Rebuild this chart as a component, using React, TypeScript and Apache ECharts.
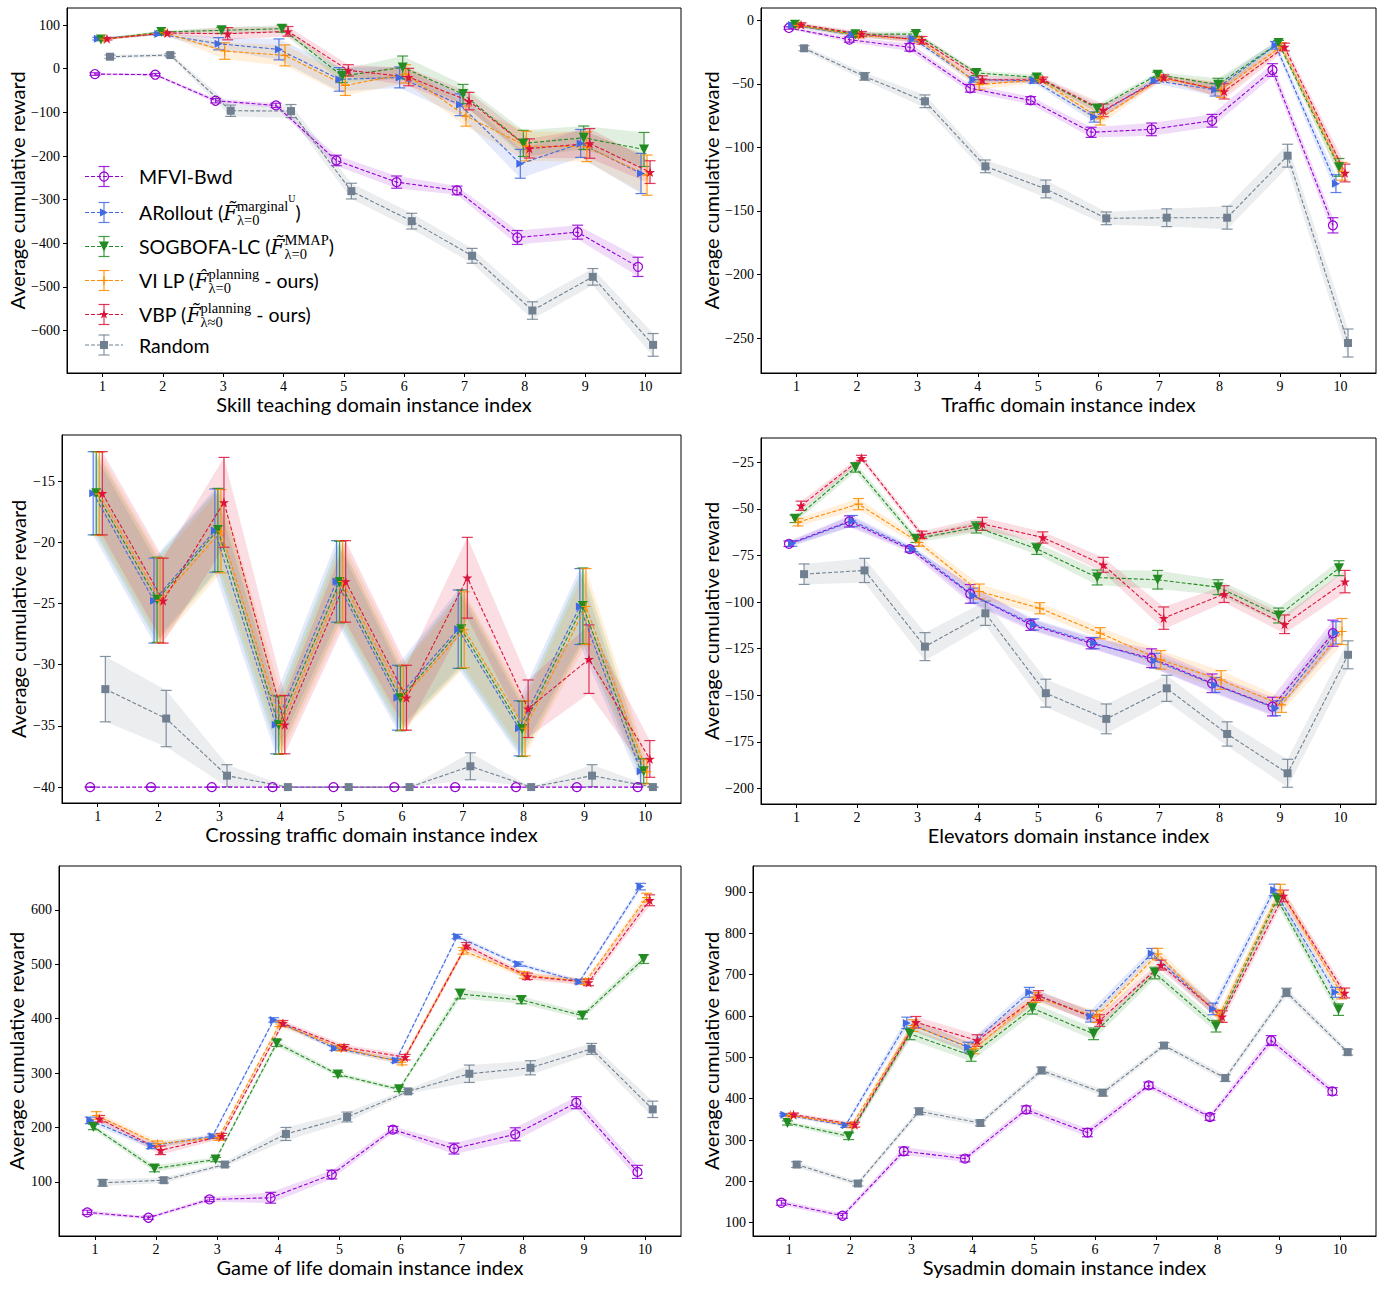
import React, { useEffect, useRef } from 'react';
import * as echarts from 'echarts';

// ---------------- data ----------------
const instances = [1, 2, 3, 4, 5, 6, 7, 8, 9, 10];
const methodNames = ['MFVI-Bwd', 'ARollout', 'SOGBOFA-LC', 'VI LP', 'VBP', 'Random'];
const methodColors = ['#9400D3', '#4169E1', '#228B22', '#FF8C00', '#DC143C', '#708090'];
const xOffsets = [-0.125, -0.075, -0.025, 0.025, 0.075, 0.125];

// order of rows: MFVI-Bwd, ARollout, SOGBOFA-LC, VI LP, VBP, Random
const skillMeans = [
  [-12.3, -13.8, -73.4, -84.1, -210.2, -259.8, -278.9, -386.6, -374.4, -453.9],
  [68.7, 79.4, 57.2, 44.2, -24.5, -20, -82.6, -217.8, -171.2, -240],
  [67.1, 84.0, 87.8, 91.6, -16.9, 3.0, -58.1, -171.2, -158.2, -185],
  [68, 82.4, 40.4, 30.5, -38.3, -12, -108.6, -177.3, -178.8, -243.8],
  [68.7, 81.7, 80.1, 85.5, -3.9, -19.2, -74.2, -182.7, -171.2, -236.9],
  [27.4, 31.2, -96.3, -97.1, -280.4, -349.2, -428.6, -553.9, -476.8, -632.6],
];
const skillErrs = [
  [3, 3, 5, 5, 12, 14, 10, 16, 16, 22],
  [3, 3, 14, 24, 27, 24, 25, 33, 32, 46],
  [3, 3, 7, 8, 15, 26, 22, 30, 27, 39],
  [3, 3, 19, 24, 23, 21, 23, 34, 34, 46],
  [3, 3, 14, 11, 13, 20, 20, 22, 34, 26],
  [4, 4, 13, 15, 18, 18, 17, 20, 19, 26],
];
const skillTicks = [-600, -500, -400, -300, -200, -100, 0, 100];

const trafficMeans = [
  [-6.0, -15.2, -21.2, -53.5, -63, -88.1, -85.8, -79, -39.1, -161.3],
  [-3.7, -11.3, -14.4, -46.7, -47.5, -76.1, -47.5, -54.6, -19.7, -128.5],
  [-3.4, -11, -10.8, -41.4, -44.9, -69.3, -42.8, -50.6, -17.8, -115.7],
  [-4, -11.8, -15.2, -50.6, -46.7, -77.4, -45.4, -54.6, -20.5, -118.8],
  [-3.4, -10.8, -15.7, -46.7, -46.7, -70.8, -44.9, -55.9, -21, -120.1],
  [-22, -44.1, -63.7, -114.9, -132.7, -155.8, -155.3, -155.3, -106.5, -253.9],
];
const trafficErrs = [
  [1, 2, 3, 3, 3, 4, 5, 5, 5, 6],
  [1.5, 2, 2, 2, 2, 4, 2, 5, 3, 7],
  [1.5, 2, 2, 2, 2, 3, 2, 5, 2, 7],
  [1.5, 2, 2, 4, 2, 5, 2, 6, 3, 7],
  [1.5, 2, 3, 3, 2, 5, 2, 6, 3, 7],
  [2, 3, 5, 5, 7, 5, 7, 9, 9, 11],
];
const trafficTicks = [-250, -200, -150, -100, -50, 0];

const crossingMeans = [
  [-40, -40, -40, -40, -40, -40, -40, -40, -40, -40],
  [-16.0, -24.77, -19.05, -34.9, -23.2, -32.7, -27.1, -35.2, -25.25, -38.7],
  [-16.0, -24.7, -19.0, -34.95, -23.25, -32.75, -27.1, -35.25, -25.2, -38.7],
  [-16.05, -24.75, -19.1, -34.9, -23.2, -32.7, -27.15, -35.2, -25.25, -38.75],
  [-16.0, -24.77, -16.74, -34.9, -23.2, -32.7, -22.9, -33.6, -29.55, -37.7],
  [-32.0, -34.4, -39.07, -40, -40, -40, -38.3, -40, -39.07, -40],
];
const crossingErrs = [
  [0, 0, 0, 0, 0, 0, 0, 0, 0, 0],
  [3.4, 3.47, 3.4, 2.38, 3.33, 2.65, 3.2, 2.25, 3.1, 1.0],
  [3.4, 3.47, 3.4, 2.38, 3.33, 2.65, 3.2, 2.25, 3.1, 1.0],
  [3.4, 3.47, 3.4, 2.38, 3.33, 2.65, 3.1, 2.25, 3.1, 1.0],
  [3.4, 3.47, 3.67, 2.38, 3.33, 2.65, 3.3, 2.35, 2.8, 1.5],
  [2.67, 2.3, 0.9, 0, 0, 0, 1.1, 0, 0.9, 0],
];
const crossingTicks = [-40, -35, -30, -25, -20, -15];

const elevatorMeans = [
  [-68.7, -56.7, -71.6, -95.6, -112.2, -122.1, -130.1, -143.6, -156.1, -116.7],
  [-68.5, -56.5, -71.5, -96.5, -112, -122, -131.5, -144.5, -157, -116.5],
  [-55.3, -27.7, -66, -59.9, -71.4, -86.8, -88, -92, -107.2, -81.8],
  [-57.1, -47.4, -68, -94.3, -103.3, -116.7, -131, -141.8, -155.2, -115.8],
  [-48.3, -22.7, -63.9, -58, -65.3, -80, -108.6, -95.7, -111.9, -89],
  [-85, -83, -123.9, -106, -148.9, -162.7, -146.3, -170.8, -191.9, -128.3],
];
const elevatorErrs = [
  [1.5, 3, 1.5, 5, 3, 3, 5, 5, 5, 7],
  [1.5, 3, 1.5, 4, 3, 3, 4, 4, 4, 6],
  [2, 2.5, 2, 3, 3, 4, 5, 4, 4, 4],
  [2, 3, 2, 4, 3, 3, 5, 5, 4, 7],
  [2.5, 1.5, 2, 3.5, 3, 4, 6, 4.5, 5, 6],
  [5.5, 6.5, 7.5, 6.5, 7.5, 8, 7, 6.5, 7.5, 7.5],
];
const elevatorTicks = [-200, -175, -150, -125, -100, -75, -50, -25];

const lifeMeans = [
  [43.8, 34, 67.6, 70.7, 113.4, 196, 161.1, 187.4, 245.5, 118.3],
  [213, 166, 184, 397.7, 345.7, 323.1, 551, 500.4, 468, 642.8],
  [200.9, 124.4, 141, 354.9, 297.4, 270, 445.4, 434.4, 405.6, 509.5],
  [222, 170, 181.3, 390.3, 345.7, 320, 524.8, 480.2, 468, 622.6],
  [216, 158, 184, 391.6, 347.5, 329.2, 534, 477.8, 466.7, 617.7],
  [98.2, 103, 131.8, 188, 219.2, 266.3, 298.7, 309.7, 344.5, 233.3],
];
const lifeErrs = [
  [4, 3, 4, 10, 8, 6, 10, 12, 11, 12],
  [6, 5, 4, 4, 4, 4, 4, 4, 4, 6],
  [5, 6, 4, 6, 4, 4, 9, 7, 6, 8],
  [7, 5, 5, 5, 5, 5, 6, 6, 5, 8],
  [6, 8, 5, 5, 5, 5, 6, 6, 6, 10],
  [6, 5, 4, 12, 9, 4, 16, 13, 10, 15],
];
const lifeTicks = [100, 200, 300, 400, 500, 600];

const sysadminMeans = [
  [148.3, 116.9, 272.9, 255.2, 373.4, 317.9, 432.1, 355.7, 540.6, 417.6],
  [361.3, 335.6, 583.2, 524.5, 657.2, 599.3, 751.3, 617, 904.8, 657.2],
  [341.2, 309.1, 556.7, 504.4, 618.6, 556.7, 703.8, 575.2, 882.3, 615.4],
  [359.7, 335.6, 576.8, 520.5, 645, 598.5, 749.7, 600.9, 902.4, 653.2],
  [361.3, 337.2, 584.8, 540.6, 649.2, 588.9, 723.1, 598.5, 890.4, 655.6],
  [240.7, 194.9, 369.4, 341.2, 468.3, 414.4, 528.6, 449.8, 657.2, 512.5],
];
const sysadminErrs = [
  [6, 6, 10, 8, 9, 10, 8, 8, 12, 9],
  [3, 5, 14, 12, 12, 14, 12, 14, 14, 12],
  [5, 8, 14, 14, 14, 14, 14, 14, 14, 14],
  [4, 6, 14, 12, 12, 14, 14, 14, 16, 12],
  [4, 6, 14, 14, 12, 14, 12, 14, 14, 12],
  [7, 6, 8, 7, 8, 8, 7, 8, 10, 7],
];
const sysadminTicks = [100, 200, 300, 400, 500, 600, 700, 800, 900];

const xTicks = instances;
const yTitle = 'Average cumulative reward';

// ---------------- styling ----------------
const SANS = 'Lato, "Open Sans", sans-serif';
const SERIF = '"Liberation Serif", "DejaVu Serif", serif';
const MATH = '"DejaVu Serif", serif';

const STAR =
  'path://M50,0 L61.2,34.5 L97.6,34.5 L68.2,55.9 L79.4,90.5 L50,69.1 L20.6,90.5 L31.8,55.9 L2.4,34.5 L38.8,34.5 Z';
const PLUS = 'path://M4.4,0H5.6V4.4H10V5.6H5.6V10H4.4V5.6H0V4.4H4.4Z';
const symbols = ['circle', 'path://M0,0L10,5L0,10Z', 'path://M0,0L10,0L5,10Z', PLUS, STAR, 'rect'];
const symbolSizes = [9, 8, 10, 9, 10, 8];

const panels = [
  { name: 'Skill teaching domain instance index', means: skillMeans, errs: skillErrs, ticks: skillTicks, yMin: -697, yMax: 139, gap: 40, grid: { left: 67, top: 8, width: 614, height: 365 } },
  { name: 'Traffic domain instance index', means: trafficMeans, errs: trafficErrs, ticks: trafficTicks, yMin: -277.5, yMax: 9.7, gap: 39, grid: { left: 761, top: 8, width: 615, height: 365 } },
  { name: 'Crossing traffic domain instance index', means: crossingMeans, errs: crossingErrs, ticks: crossingTicks, yMin: -41.3, yMax: -11.24, gap: 34.5, grid: { left: 62, top: 435, width: 619, height: 368 } },
  { name: 'Elevators domain instance index', means: elevatorMeans, errs: elevatorErrs, ticks: elevatorTicks, yMin: -208.4, yMax: -11.9, gap: 39, grid: { left: 761, top: 438, width: 615, height: 366 } },
  { name: 'Game of life domain instance index', means: lifeMeans, errs: lifeErrs, ticks: lifeTicks, yMin: 0.4, yMax: 680.7, gap: 33, grid: { left: 59, top: 866, width: 622, height: 370 } },
  { name: 'Sysadmin domain instance index', means: sysadminMeans, errs: sysadminErrs, ticks: sysadminTicks, yMin: 67.9, yMax: 962.7, gap: 32, grid: { left: 753, top: 866, width: 623, height: 370 } },
];

const fmt = (v: number) => (v < 0 ? '\u2212' + Math.abs(v) : String(v));

let measureCanvas: HTMLCanvasElement | null = null;
function measure(text: string, size: number, family: string, italic: boolean) {
  if (!measureCanvas) measureCanvas = document.createElement('canvas');
  const ctx = measureCanvas.getContext('2d')!;
  ctx.font = `${italic ? 'italic ' : ''}${size}px ${family}`;
  return ctx.measureText(text).width;
}

const pieceStyles: Record<string, { size: number; family: string; italic: boolean; dy: number }> = {
  main: { size: 19.5, family: SANS, italic: false, dy: 0 },
  F: { size: 20, family: MATH, italic: true, dy: 0 },
  sup: { size: 14.5, family: SERIF, italic: false, dy: -7 },
  sup2: { size: 10, family: SERIF, italic: false, dy: -14 },
  sub: { size: 14.5, family: SERIF, italic: false, dy: 7 },
};

const legendRows = [
  { m: 0, y: 176.5, pieces: [{ t: 'MFVI-Bwd', k: 'main' }] },
  { m: 1, y: 212.5, pieces: [{ t: 'ARollout (', k: 'main' }, { t: 'F\u0303', k: 'F' }, { t: 'marginal', k: 'sup' }, { t: 'U', k: 'sup2' }, { t: '\u03bb=0', k: 'sub', at: 2 }, { t: ')', k: 'main' }] },
  { m: 2, y: 246.5, pieces: [{ t: 'SOGBOFA-LC (', k: 'main' }, { t: 'F\u0303', k: 'F' }, { t: 'MMAP', k: 'sup' }, { t: '\u03bb=0', k: 'sub', at: 2 }, { t: ')', k: 'main' }] },
  { m: 3, y: 280.5, pieces: [{ t: 'VI LP (', k: 'main' }, { t: 'F\u0302', k: 'F' }, { t: 'planning', k: 'sup' }, { t: '\u03bb=0', k: 'sub', at: 2 }, { t: ' - ours)', k: 'main' }] },
  { m: 4, y: 314.5, pieces: [{ t: 'VBP (', k: 'main' }, { t: 'F\u0303', k: 'F' }, { t: 'planning', k: 'sup' }, { t: '\u03bb\u22480', k: 'sub', at: 2 }, { t: ' - ours)', k: 'main' }] },
  { m: 5, y: 345, pieces: [{ t: 'Random', k: 'main' }] },
];

function starPoints(cx: number, cy: number, R: number) {
  const pts: number[][] = [];
  for (let i = 0; i < 10; i++) {
    const r = i % 2 === 0 ? R : R * 0.4;
    const a = -Math.PI / 2 + (i * Math.PI) / 5;
    pts.push([cx + r * Math.cos(a), cy + r * Math.sin(a)]);
  }
  return pts;
}

function legendMarker(m: number, x: number, y: number) {
  const c = methodColors[m];
  switch (m) {
    case 0:
      return { type: 'circle', shape: { cx: x, cy: y, r: 4.5 }, style: { fill: 'rgba(0,0,0,0)', stroke: c, lineWidth: 1.2 } };
    case 1:
      return { type: 'polygon', shape: { points: [[x - 4, y - 4], [x + 4, y], [x - 4, y + 4]] }, style: { fill: c } };
    case 2:
      return { type: 'polygon', shape: { points: [[x - 5, y - 5], [x + 5, y - 5], [x, y + 5]] }, style: { fill: c } };
    case 3:
      return {
        type: 'group',
        children: [
          { type: 'line', shape: { x1: x - 4.5, y1: y, x2: x + 4.5, y2: y }, style: { stroke: c, lineWidth: 1.2 } },
          { type: 'line', shape: { x1: x, y1: y - 4.5, x2: x, y2: y + 4.5 }, style: { stroke: c, lineWidth: 1.2 } },
        ],
      };
    case 4:
      return { type: 'polygon', shape: { points: starPoints(x, y, 5) }, style: { fill: c } };
    default:
      return { type: 'rect', shape: { x: x - 4, y: y - 4, width: 8, height: 8 }, style: { fill: c } };
  }
}

function buildLegend() {
  const els: any[] = [];
  const mx = 104;
  legendRows.forEach((row) => {
    const c = methodColors[row.m];
    const y = row.y;
    els.push({ type: 'line', shape: { x1: 85, y1: y, x2: 123, y2: y }, style: { stroke: c, lineWidth: 1.1, lineDash: [4, 2] } });
    const st = { stroke: c, lineWidth: 1.2, opacity: 0.85 };
    els.push({ type: 'line', shape: { x1: mx, y1: y - 10, x2: mx, y2: y + 10 }, style: st });
    els.push({ type: 'line', shape: { x1: mx - 5.5, y1: y - 10, x2: mx + 5.5, y2: y - 10 }, style: st });
    els.push({ type: 'line', shape: { x1: mx - 5.5, y1: y + 10, x2: mx + 5.5, y2: y + 10 }, style: st });
    els.push(legendMarker(row.m, mx, y));
    let cursor = 139;
    const starts: number[] = [];
    row.pieces.forEach((p: any, i: number) => {
      const s = pieceStyles[p.k];
      const sx = p.at !== undefined ? starts[p.at] : cursor;
      starts[i] = sx;
      const w = measure(p.t, s.size, s.family, s.italic);
      els.push({
        type: 'text',
        x: sx,
        y: y + s.dy,
        style: {
          text: p.t,
          fontSize: s.size,
          fontFamily: s.family,
          fontStyle: s.italic ? 'italic' : 'normal',
          fill: '#000',
          align: 'left',
          verticalAlign: 'middle',
        },
      });
      cursor = Math.max(cursor, sx + w);
    });
  });
  return els.map((e) => ({ ...e, z: 100 }));
}

function buildOption() {
  const grids: any[] = [];
  const xAxes: any[] = [];
  const yAxes: any[] = [];
  const series: any[] = [];

  panels.forEach((p, pi) => {
    grids.push({ ...p.grid, show: true, borderColor: '#000', borderWidth: 1, backgroundColor: 'transparent' });
    xAxes.push({
      type: 'value',
      gridIndex: pi,
      min: 0.4125,
      max: 10.5875,
      name: p.name,
      nameLocation: 'middle',
      nameGap: 21,
      nameTextStyle: { fontFamily: SANS, fontSize: 20, color: '#000' },
      axisLine: { show: true, onZero: false, lineStyle: { color: '#000', width: 1 } },
      axisTick: { show: true, inside: false, length: 4, lineStyle: { color: '#000' }, customValues: xTicks },
      axisLabel: { customValues: xTicks, fontFamily: SERIF, fontSize: 14, color: '#000', margin: 6, formatter: (v: number) => fmt(v) },
      splitLine: { show: false },
    });
    yAxes.push({
      type: 'value',
      gridIndex: pi,
      min: p.yMin,
      max: p.yMax,
      name: yTitle,
      nameLocation: 'middle',
      nameGap: p.gap,
      nameTextStyle: { fontFamily: SANS, fontSize: 20, color: '#000' },
      axisLine: { show: true, onZero: false, lineStyle: { color: '#000', width: 1 } },
      axisTick: { show: true, inside: false, length: 4, lineStyle: { color: '#000' }, customValues: p.ticks },
      axisLabel: { customValues: p.ticks, fontFamily: SERIF, fontSize: 14, color: '#000', margin: 7, formatter: (v: number) => fmt(v) },
      splitLine: { show: false },
    });

    methodNames.forEach((mname, mi) => {
      const color = methodColors[mi];
      const xs = instances.map((x) => x + xOffsets[mi]);
      const mean = p.means[mi];
      const err = p.errs[mi];
      const lo = mean.map((v, i) => v - err[i]);
      const hi = mean.map((v, i) => v + err[i]);
      const rangeData = xs.map((x, i) => [x, lo[i], hi[i]]);

      // shaded band
      series.push({
        type: 'custom',
        name: mname + ' band',
        xAxisIndex: pi,
        yAxisIndex: pi,
        z: 1,
        silent: true,
        encode: { x: 0, y: [1, 2] },
        data: rangeData,
        renderItem: (params: any, api: any) => {
          if (params.dataIndex !== 0) return { type: 'group', children: [] };
          const pts: number[][] = [];
          for (let i = 0; i < xs.length; i++) pts.push(api.coord([xs[i], lo[i]]));
          for (let i = xs.length - 1; i >= 0; i--) pts.push(api.coord([xs[i], hi[i]]));
          return { type: 'polygon', shape: { points: pts }, style: { fill: color, opacity: 0.14 } };
        },
      });

      // error bars
      series.push({
        type: 'custom',
        name: mname + ' error',
        xAxisIndex: pi,
        yAxisIndex: pi,
        z: 2,
        silent: true,
        encode: { x: 0, y: [1, 2] },
        data: rangeData,
        renderItem: (params: any, api: any) => {
          const x = api.value(0);
          const a = api.coord([x, api.value(1)]);
          const b = api.coord([x, api.value(2)]);
          const cw = 5.5;
          const st = { stroke: color, lineWidth: 1.2, opacity: 0.85 };
          return {
            type: 'group',
            children: [
              { type: 'line', shape: { x1: a[0], y1: a[1], x2: b[0], y2: b[1] }, style: st },
              { type: 'line', shape: { x1: a[0] - cw, y1: a[1], x2: a[0] + cw, y2: a[1] }, style: st },
              { type: 'line', shape: { x1: b[0] - cw, y1: b[1], x2: b[0] + cw, y2: b[1] }, style: st },
            ],
          };
        },
      });

      // mean line + markers
      series.push({
        type: 'line',
        name: mname,
        xAxisIndex: pi,
        yAxisIndex: pi,
        z: 3,
        silent: true,
        data: xs.map((x, i) => [x, mean[i]]),
        symbol: symbols[mi],
        symbolSize: symbolSizes[mi],
        showSymbol: true,
        lineStyle: { color, width: 1.1, type: [4, 2] },
        itemStyle:
          mi === 0
            ? { color: 'rgba(255,255,255,0)', borderColor: color, borderWidth: 1.2 }
            : { color, borderColor: color, borderWidth: 0 },
      });
    });
  });

  return {
    animation: false,
    backgroundColor: '#fff',
    grid: grids,
    xAxis: xAxes,
    yAxis: yAxes,
    series,
    graphic: buildLegend(),
  };
}

export default function App() {
  const ref = useRef<HTMLDivElement>(null);
  useEffect(() => {
    if (!ref.current) return;
    const chart = echarts.init(ref.current, undefined, { renderer: 'svg' });
    chart.setOption(buildOption() as any);
    return () => chart.dispose();
  }, []);
  return (
    <div
      ref={ref}
      style={{ position: 'absolute', left: 0, top: 0, width: 1383, height: 1290, background: '#fff' }}
    />
  );
}
